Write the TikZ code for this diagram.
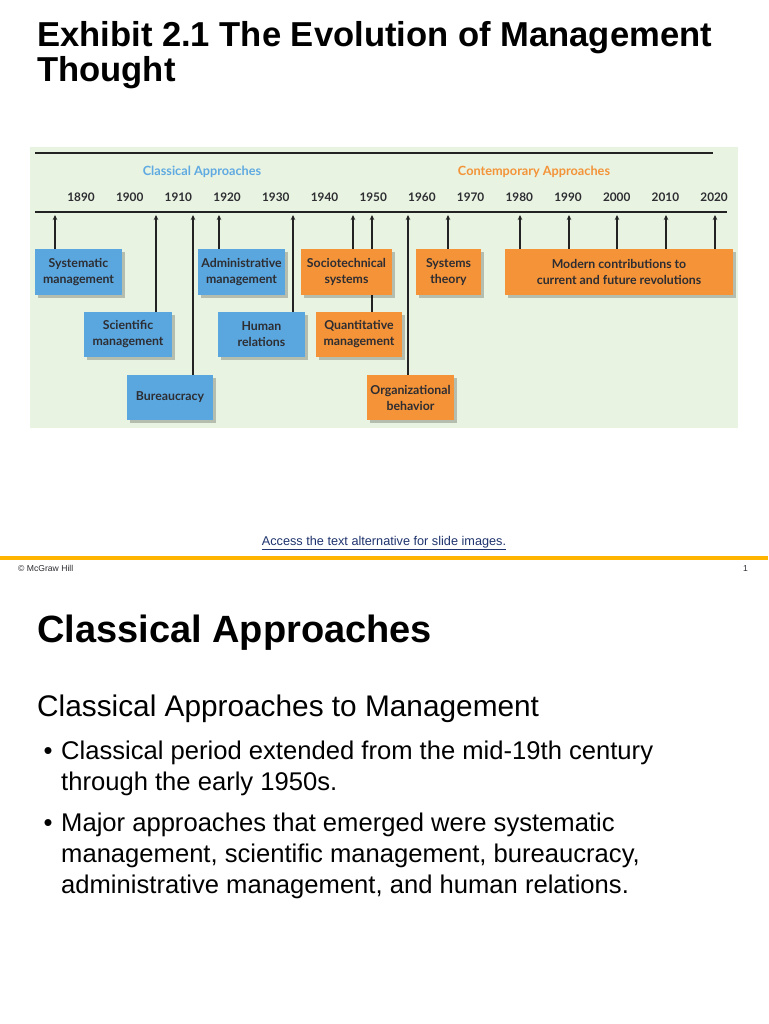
\documentclass[tikz,border=0pt]{standalone}
\usepackage{fontspec}
\setmainfont{Liberation Sans}
\newfontfamily\latofont{Lato}
\usetikzlibrary{arrows.meta,shadows}

\definecolor{panelgreen}{RGB}{232,243,225}
\definecolor{mgblue}{RGB}{90,167,224}
\definecolor{mgorange}{RGB}{244,147,56}
\definecolor{labelblue}{RGB}{95,170,226}
\definecolor{labelorange}{RGB}{244,147,56}
\definecolor{boxtext}{RGB}{45,45,50}
\definecolor{linegray}{RGB}{35,35,35}
\definecolor{linkblue}{RGB}{31,52,110}
\definecolor{mggold}{RGB}{255,181,0}

\pgfdeclarelayer{bg}
\pgfdeclarelayer{lines}
\pgfsetlayers{bg,lines,main}

\tikzset{
  box/.style={rectangle, inner sep=0pt, minimum height=46pt, align=center,
    font=\latofont\bfseries\fontsize{12.3}{16}\selectfont, text=boxtext,
    drop shadow={shadow xshift=2.5pt, shadow yshift=-2.5pt, fill=black, opacity=0.22}},
  bluebox/.style={box, fill=mgblue},
  orangebox/.style={box, fill=mgorange},
  year/.style={font=\latofont\bfseries\fontsize{11.8}{12}\selectfont, text=boxtext},
  period/.style={font=\latofont\bfseries\fontsize{12.7}{14}\selectfont},
  tick/.style={-{Stealth[length=5pt,width=4.5pt]}, line width=1.4pt, draw=linegray},
  slide/.style={anchor=base west, inner sep=0pt},
}

\begin{document}
\begin{tikzpicture}[x=1pt, y=-1pt]
	\useasboundingbox (0,0) rectangle (768,1024);
	\begin{pgfonlayer}{bg}
	\fill[white] (0,0) rectangle (768,1024);
	% Timeline panel
	\fill[panelgreen] (30,147) rectangle (738,428);
	\end{pgfonlayer}

	% Slide 1 title
	\node (title1) at (37,47) [slide, font=\bfseries\fontsize{34.6}{40}\selectfont] {Exhibit 2.1 The Evolution of Management};
	\node (title2) at (37,82) [slide, font=\bfseries\fontsize{34.6}{40}\selectfont] {Thought};

	\draw[line width=2pt, linegray] (35,153) -- (713,153);
	\node (classical) at (202,172) [period, text=labelblue] {Classical Approaches};
	\node (contemp) at (534,172) [period, text=labelorange] {Contemporary Approaches};

	% Decades
	\foreach \yr [count=\i from 0] in {1890,1900,...,2020}
		\node (y\yr) at (81+48.7*\i,197) [year] {\yr};
	\draw[line width=2pt, linegray] (35,212) -- (727,212);

	% Classical boxes
	\node (sysmgmt) at (78.5,272) [bluebox, minimum width=87pt] {Systematic\\management};
	\node (admin) at (241.5,272) [bluebox, minimum width=87pt] {Administrative\\management};
	\node (scimgmt) at (128,334.5) [bluebox, minimum width=88pt, minimum height=45pt] {Scientific\\management};
	\node (human) at (261.5,334.5) [bluebox, minimum width=87pt, minimum height=45pt] {Human\\relations};
	\node (bureau) at (170,397.5) [bluebox, minimum width=86pt, minimum height=45pt] {Bureaucracy};

	% Contemporary boxes
	\node (socio) at (346.5,272) [orangebox, minimum width=91pt] {Sociotechnical\\systems};
	\node (systheory) at (448.5,272) [orangebox, minimum width=65pt] {Systems\\theory};
	\node (modern) at (619,272) [orangebox, minimum width=228pt] {Modern contributions to\\current and future revolutions};
	\node (quant) at (359,334.5) [orangebox, minimum width=86pt, minimum height=45pt] {Quantitative\\management};
	\node (orgbeh) at (410.5,397.5) [orangebox, minimum width=87pt, minimum height=45pt] {Organizational\\behavior};

	% Arrows up to the time line
	\foreach \n/\x in {sysmgmt/55, scimgmt/156, bureau/193, admin/219, human/293,
		socio/353, quant/372, orgbeh/408, systheory/448}
		\coordinate (t\n) at (\x,215);
	\foreach \x [count=\i] in {520,569,617,666,715}
		\coordinate (tmodern\i) at (\x,215);
	\begin{pgfonlayer}{lines}
	\foreach \n in {sysmgmt,scimgmt,bureau,admin,human,socio,quant,orgbeh,systheory}
		\draw[tick] (\n.north -| t\n) -- (t\n);
	\foreach \i in {1,...,5}
		\draw[tick] (modern.north -| tmodern\i) -- (tmodern\i);
	\end{pgfonlayer}

	% Footer of slide 1
	\node (access) at (384,545) [anchor=base, inner sep=0pt, font=\fontsize{12.7}{14}\selectfont, text=linkblue] {\underline{Access the text alternative for slide images.}};
	\fill[mggold] (0,556) rectangle (768,560);
	\node (copy) at (18,571) [slide, font=\fontsize{8.6}{10}\selectfont, text=boxtext] {\textcopyright{} McGraw Hill};
	\node (pagenum) at (748,571) [anchor=base east, inner sep=0pt, font=\fontsize{8.6}{10}\selectfont, text=boxtext] {1};

	% Slide 2
	\node (title3) at (37,642) [slide, font=\bfseries\fontsize{38}{44}\selectfont] {Classical Approaches};
	\node (subtitle) at (37,716) [slide, font=\fontsize{29.8}{34}\selectfont] {Classical Approaches to Management};

	% Bullets
	\node (dot1) at (43.5,759) [slide, font=\fontsize{25.6}{31}\selectfont] {\textbullet};
	\node (b1a) at (61,759) [slide, font=\fontsize{25.6}{31}\selectfont] {Classical period extended from the mid-19th century};
	\node (b1b) at (61,790) [slide, font=\fontsize{25.6}{31}\selectfont] {through the early 1950s.};
	\node (dot2) at (43.5,831) [slide, font=\fontsize{25.6}{31}\selectfont] {\textbullet};
	\node (b2a) at (61,831) [slide, font=\fontsize{25.6}{31}\selectfont] {Major approaches that emerged were systematic};
	\node (b2b) at (61,862) [slide, font=\fontsize{25.6}{31}\selectfont] {management, scientific management, bureaucracy,};
	\node (b2c) at (61,893) [slide, font=\fontsize{25.6}{31}\selectfont] {administrative management, and human relations.};

\end{tikzpicture}
\end{document}
